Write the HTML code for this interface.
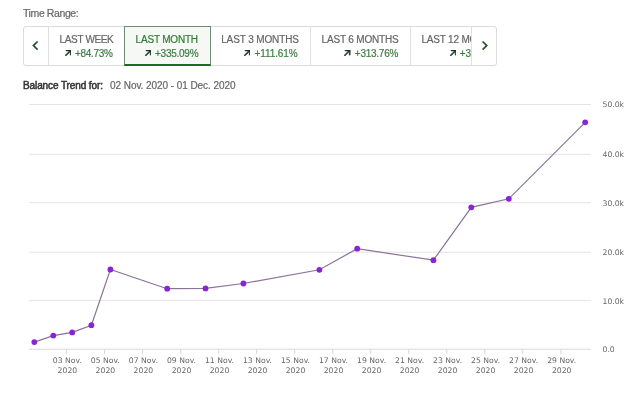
<!DOCTYPE html>
<html><head><meta charset="utf-8">
<style>
html,body{margin:0;padding:0;background:#fff;}
body{width:640px;height:403px;position:relative;overflow:hidden;font-family:"Liberation Sans",Arial,sans-serif;}
.a{position:absolute;white-space:nowrap;}
.ar{display:block;}
#grp{left:23px;top:26px;width:472px;height:38px;border:1px solid #dcdcdc;border-radius:3px;}
.dv{position:absolute;top:26px;width:1px;height:40px;background:#e0e0e0;}
#act{left:124px;top:26px;width:85px;height:37px;border:1px solid #6f8a72;border-bottom:2px solid #1b6b20;background:#f5f8f5;}
.ui{font-size:10px;line-height:12px;-webkit-text-stroke:0.2px currentColor;}
.g1{color:#666;}
.g2{color:#3d7d45;}
.gA{color:#2e7d32;}
#clip{left:49px;top:27px;width:422px;height:38px;overflow:hidden;}
.b{font-weight:bold;color:#3a3a3a;-webkit-text-stroke:0 !important;}
.bm{font-weight:normal;color:#333;-webkit-text-stroke:0.5px #333 !important;}
svg text{font-family:"DejaVu Sans",sans-serif;font-size:7.7px;fill:#666;}
</style></head><body>

<div class="a m ui g1" id="tr" style="left:23px;top:7px;letter-spacing:-0.4px;font-size:10.5px;">Time Range:</div>
<div class="a" id="grp"></div>
<div class="dv" style="left:48px"></div><div class="dv" style="left:471px"></div><div class="dv" style="left:310px"></div><div class="dv" style="left:410px"></div>
<div class="a" id="act"></div>
<svg class="a" style="left:0;top:0" width="640" height="80" viewBox="0 0 640 80">
<path d="M37.6 41.5 L33.4 45.6 L37.6 49.6" fill="none" stroke="#1d4d22" stroke-width="1.6"/>
<path d="M482.6 41.5 L486.8 45.6 L482.6 49.6" fill="none" stroke="#1d4d22" stroke-width="1.6"/>
</svg>
<div class="a m ui g1" id="w1" style="left:59.6px;top:33.7px;letter-spacing:-0.36px;">LAST WEEK</div>
<div class="a m" id="wa" style="left:64.8px;top:49.7px;width:6.2px;height:6.2px"><svg class="ar" width="6.2" height="6.2" viewBox="4 5 15 15"><path d="M6.6 5v2.3h8.2L4 18.3 5.7 20 16.7 9.1V17.4h2.3V5z" fill="#1c3326" stroke="#1c3326" stroke-width="1.4"/></svg></div>
<div class="a m ui g2" id="w2" style="left:75px;top:47.7px;letter-spacing:-0.3px;">+84.73%</div>
<div class="a m ui gA" id="m1" style="left:135.6px;top:33.7px;letter-spacing:-0.2px;">LAST MONTH</div>
<div class="a m" id="ma" style="left:144.8px;top:49.7px;width:6.2px;height:6.2px"><svg class="ar" width="6.2" height="6.2" viewBox="4 5 15 15"><path d="M6.6 5v2.3h8.2L4 18.3 5.7 20 16.7 9.1V17.4h2.3V5z" fill="#1c3326" stroke="#1c3326" stroke-width="1.4"/></svg></div>
<div class="a m ui g2" id="m2" style="left:155px;top:47.7px;letter-spacing:-0.25px;">+335.09%</div>
<div class="a m ui g1" id="t1" style="left:221.2px;top:33.7px;letter-spacing:-0.13px;">LAST 3 MONTHS</div>
<div class="a m" id="ta" style="left:244.3px;top:49.7px;width:6.2px;height:6.2px"><svg class="ar" width="6.2" height="6.2" viewBox="4 5 15 15"><path d="M6.6 5v2.3h8.2L4 18.3 5.7 20 16.7 9.1V17.4h2.3V5z" fill="#1c3326" stroke="#1c3326" stroke-width="1.4"/></svg></div>
<div class="a m ui g2" id="t2" style="left:254.5px;top:47.7px;letter-spacing:-0.1px;">+111.61%</div>
<div class="a m ui g1" id="s1" style="left:321.5px;top:33.7px;letter-spacing:-0.17px;">LAST 6 MONTHS</div>
<div class="a m" id="sa" style="left:344.4px;top:49.7px;width:6.2px;height:6.2px"><svg class="ar" width="6.2" height="6.2" viewBox="4 5 15 15"><path d="M6.6 5v2.3h8.2L4 18.3 5.7 20 16.7 9.1V17.4h2.3V5z" fill="#1c3326" stroke="#1c3326" stroke-width="1.4"/></svg></div>
<div class="a m ui g2" id="s2" style="left:354.8px;top:47.7px;letter-spacing:-0.25px;">+313.76%</div>
<div class="a" style="left:0;top:0;width:471px;height:66px;overflow:hidden">
<div class="a m ui g1" id="y1" style="left:421.5px;top:33.7px;letter-spacing:-0.2px;">LAST 12 MONTHS</div>
<div class="a m" id="ya" style="left:449.6px;top:49.7px;width:6.2px;height:6.2px"><svg class="ar" width="6.2" height="6.2" viewBox="4 5 15 15"><path d="M6.6 5v2.3h8.2L4 18.3 5.7 20 16.7 9.1V17.4h2.3V5z" fill="#1c3326" stroke="#1c3326" stroke-width="1.4"/></svg></div>
<div class="a m ui g2" id="y2" style="left:459.8px;top:47.7px;letter-spacing:-0.2px;">+389.42%</div>
</div>
<div class="a m ui bm" id="bal" style="left:23px;top:80px;letter-spacing:-0.1px;">Balance Trend for:</div>
<div class="a m ui g1" id="rng" style="left:110px;top:80px;letter-spacing:-0.06px;">02 Nov. 2020 - 01 Dec. 2020</div>
<svg class="a" style="left:0;top:0" width="640" height="403" viewBox="0 0 640 403">
<g stroke="#e4e4e4" stroke-width="1" fill="none">
<path d="M29 104.5 H591"/>
<path d="M29 154.3 H591"/>
<path d="M29 202.7 H591"/>
<path d="M29 252.2 H591"/>
<path d="M29 300.6 H591"/>
</g>
<path d="M29 349.2 H591" stroke="#d8d8d8" stroke-width="1" fill="none"/>
<g stroke="#d8d8d8" stroke-width="1" fill="none">
<path d="M66.6 349.2 V354"/>
<path d="M104.6 349.2 V354"/>
<path d="M142.6 349.2 V354"/>
<path d="M180.7 349.2 V354"/>
<path d="M218.7 349.2 V354"/>
<path d="M256.7 349.2 V354"/>
<path d="M294.7 349.2 V354"/>
<path d="M332.7 349.2 V354"/>
<path d="M370.8 349.2 V354"/>
<path d="M408.8 349.2 V354"/>
<path d="M446.8 349.2 V354"/>
<path d="M484.8 349.2 V354"/>
<path d="M522.8 349.2 V354"/>
<path d="M560.9 349.2 V354"/>
</g>
<g text-anchor="middle">
<text x="67.4" y="362.7">03 Nov.</text><text x="67.4" y="372.7">2020</text>
<text x="105.4" y="362.7">05 Nov.</text><text x="105.4" y="372.7">2020</text>
<text x="143.4" y="362.7">07 Nov.</text><text x="143.4" y="372.7">2020</text>
<text x="181.5" y="362.7">09 Nov.</text><text x="181.5" y="372.7">2020</text>
<text x="219.5" y="362.7">11 Nov.</text><text x="219.5" y="372.7">2020</text>
<text x="257.5" y="362.7">13 Nov.</text><text x="257.5" y="372.7">2020</text>
<text x="295.5" y="362.7">15 Nov.</text><text x="295.5" y="372.7">2020</text>
<text x="333.5" y="362.7">17 Nov.</text><text x="333.5" y="372.7">2020</text>
<text x="371.6" y="362.7">19 Nov.</text><text x="371.6" y="372.7">2020</text>
<text x="409.6" y="362.7">21 Nov.</text><text x="409.6" y="372.7">2020</text>
<text x="447.6" y="362.7">23 Nov.</text><text x="447.6" y="372.7">2020</text>
<text x="485.6" y="362.7">25 Nov.</text><text x="485.6" y="372.7">2020</text>
<text x="523.6" y="362.7">27 Nov.</text><text x="523.6" y="372.7">2020</text>
<text x="561.7" y="362.7">29 Nov.</text><text x="561.7" y="372.7">2020</text>
</g><g>
<text x="602.5" y="107.4">50.0k</text>
<text x="602.5" y="157.2">40.0k</text>
<text x="602.5" y="205.6">30.0k</text>
<text x="602.5" y="255.1">20.0k</text>
<text x="602.5" y="303.5">10.0k</text>
<text x="602.5" y="352.1">0.0</text>
</g>
<polyline fill="none" stroke="#8a7398" stroke-width="1.2" points="34.3,342.1 53.3,335.6 72.2,332.4 91.4,325.2 110.4,269.5 167.2,288.7 205.5,288.4 243.4,283.5 319.4,269.8 357.2,248.7 433.4,260.2 471.3,207.3 508.8,198.8 585.2,122.3"/>
<g fill="#8a22d6">
<circle cx="34.3" cy="342.1" r="2.9"/>
<circle cx="53.3" cy="335.6" r="2.9"/>
<circle cx="72.2" cy="332.4" r="2.9"/>
<circle cx="91.4" cy="325.2" r="2.9"/>
<circle cx="110.4" cy="269.5" r="2.9"/>
<circle cx="167.2" cy="288.7" r="2.9"/>
<circle cx="205.5" cy="288.4" r="2.9"/>
<circle cx="243.4" cy="283.5" r="2.9"/>
<circle cx="319.4" cy="269.8" r="2.9"/>
<circle cx="357.2" cy="248.7" r="2.9"/>
<circle cx="433.4" cy="260.2" r="2.9"/>
<circle cx="471.3" cy="207.3" r="2.9"/>
<circle cx="508.8" cy="198.8" r="2.9"/>
<circle cx="585.2" cy="122.3" r="2.9"/>
</g></svg>
</body></html>
